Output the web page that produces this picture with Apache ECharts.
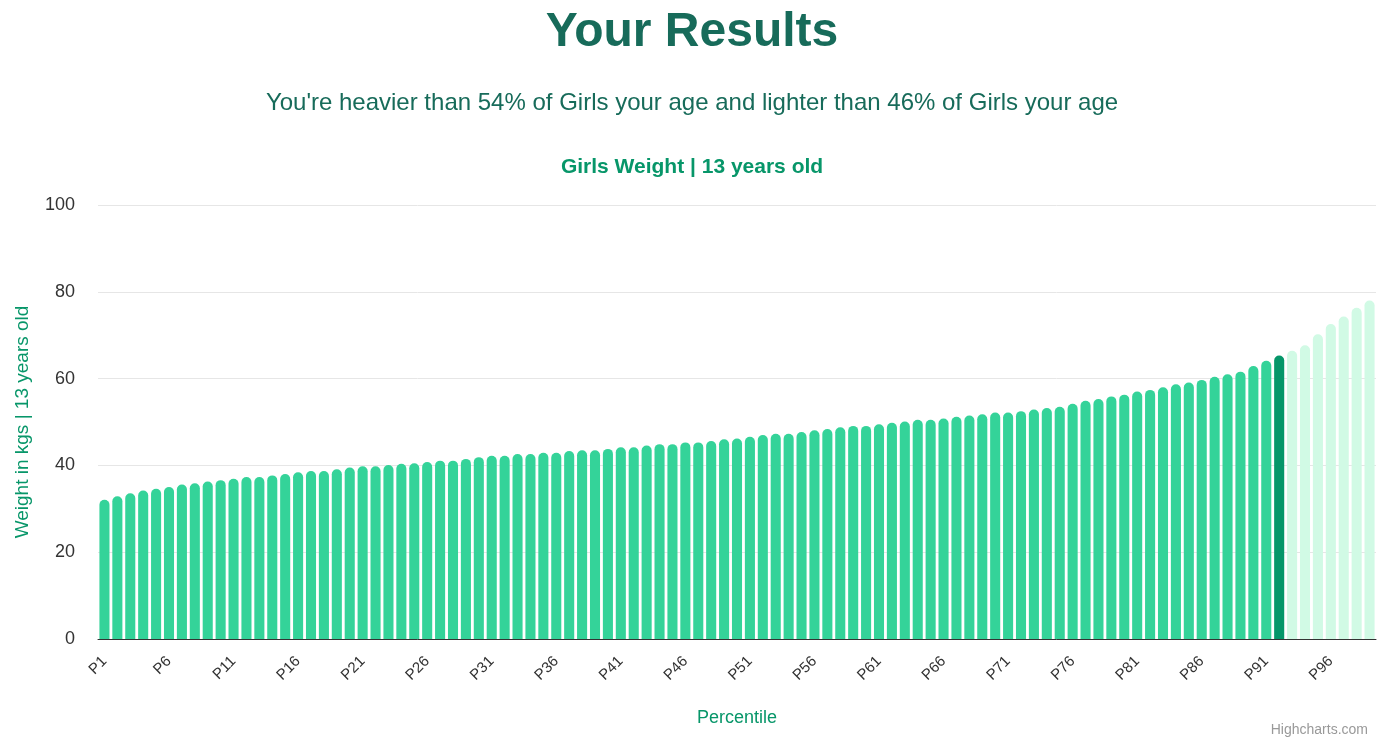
<!DOCTYPE html>
<html>
<head>
<meta charset="utf-8">
<title>Your Results</title>
<script src="https://cdn.jsdelivr.net/npm/echarts@6/dist/echarts.min.js"></script>
<style>
  html, body { margin: 0; padding: 0; background: #fff; }
  #chart { width: 1384px; height: 742px; }
</style>
</head>
<body>
<div id="chart"></div>
<script>
// percentiles P1..P99
const percentiles = Array.from({ length: 99 }, (_, i) => 'P' + (i + 1))

// weight in kgs for each percentile
const weights = [
  32.1, 32.9, 33.6, 34.2, 34.6, 35.0, 35.6, 35.9, 36.3, 36.6,
  36.9, 37.3, 37.3, 37.7, 38.0, 38.4, 38.7, 38.7, 39.1, 39.5,
  39.8, 39.8, 40.1, 40.4, 40.5, 40.8, 41.1, 41.1, 41.5, 41.9,
  42.2, 42.2, 42.6, 42.6, 42.9, 42.9, 43.3, 43.5, 43.5, 43.8,
  44.2, 44.2, 44.6, 44.9, 44.9, 45.3, 45.3, 45.6, 46.0, 46.2,
  46.6, 47.0, 47.3, 47.3, 47.7, 48.1, 48.4, 48.8, 49.1, 49.1,
  49.5, 49.8, 50.1, 50.5, 50.5, 50.8, 51.2, 51.5, 51.8, 52.2,
  52.2, 52.5, 52.9, 53.2, 53.5, 54.2, 54.9, 55.3, 55.9, 56.3,
  57.0, 57.4, 58.0, 58.7, 59.1, 59.7, 60.4, 61.0, 61.6, 62.9,
  64.1, 65.3, 66.4, 67.7, 70.2, 72.6, 74.3, 76.3, 78.0
]

const yTicks = [0, 20, 40, 60, 80, 100]
const youPercentile = 'P92' // the child's own bar

const colorBelow = '#34d399'
const colorYou = '#059669'
const colorAbove = '#d1fae5'
const green = '#079669'
const darkTeal = '#176b5a'
const fontFamily = '"Liberation Sans", Arial, Helvetica, sans-serif'

const youIdx = percentiles.indexOf(youPercentile)
const barData = weights.map((v, i) => ({
  value: v,
  itemStyle: { color: i < youIdx ? colorBelow : (i === youIdx ? colorYou : colorAbove) }
}))

const chart = echarts.init(document.getElementById('chart'))
chart.setOption({
  animation: false,
  textStyle: { fontFamily },
  title: [
    {
      text: 'Your Results',
      left: 'center',
      top: 4,
      textStyle: { fontSize: 48, fontWeight: 'bold', color: darkTeal, fontFamily }
    },
    {
      text: "You're heavier than 54% of Girls your age and lighter than 46% of Girls your age",
      left: 'center',
      top: 86,
      textStyle: { fontSize: 24, fontWeight: 'normal', color: darkTeal, fontFamily }
    },
    {
      text: 'Girls Weight | 13 years old',
      left: 'center',
      top: 152,
      textStyle: { fontSize: 21, fontWeight: 'bold', color: green, fontFamily }
    }
  ],
  grid: { left: 98, right: 8, top: 205, bottom: 103, containLabel: false, outerBoundsMode: 'none' },
  xAxis: {
    type: 'category',
    data: percentiles,
    name: 'Percentile',
    nameLocation: 'middle',
    nameGap: 70,
    nameMoveOverlap: false,
    nameTextStyle: { fontSize: 18, color: green },
    axisLine: { lineStyle: { color: '#333', width: 1 } },
    axisTick: { show: false },
    axisLabel: {
      interval: 4,
      rotate: 45,
      margin: 20,
      fontSize: 15,
      color: '#333'
    }
  },
  yAxis: {
    type: 'value',
    min: yTicks[0],
    max: yTicks[yTicks.length - 1],
    interval: yTicks[1] - yTicks[0],
    name: 'Weight in kgs | 13 years old',
    nameLocation: 'middle',
    nameGap: 66,
    nameMoveOverlap: false,
    nameTextStyle: { fontSize: 19, color: green },
    axisLine: { show: false },
    axisTick: { show: false },
    axisLabel: { fontSize: 18, color: '#333', margin: 23 },
    splitLine: { lineStyle: { color: '#e6e6e6', width: 1 } }
  },
  series: [{
    type: 'bar',
    data: barData,
    barCategoryGap: '22%',
    itemStyle: { borderRadius: [5, 5, 0, 0] }
  }],
  graphic: [{
    type: 'text',
    right: 16,
    bottom: 5,
    style: { text: 'Highcharts.com', fontSize: 14, fill: '#999', fontFamily }
  }]
})
</script>
</body>
</html>
